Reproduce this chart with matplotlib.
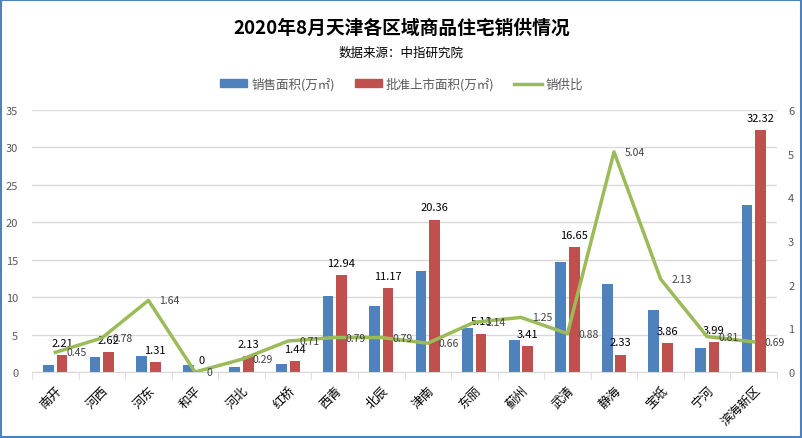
import matplotlib.pyplot as plt
import numpy as np
from matplotlib.patches import Rectangle
from matplotlib.lines import Line2D
from matplotlib.patches import Patch

plt.rcParams['font.family'] = ['Noto Sans CJK SC', 'DejaVu Sans']

# données
districts = ['南开', '河西', '河东', '和平', '河北', '红桥', '西青', '北辰',
             '津南', '东丽', '蓟州', '武清', '静海', '宝坻', '宁河', '滨海新区']
sales = [0.99, 2.04, 2.15, 0.95, 0.62, 1.02, 10.22, 8.82,
         13.44, 5.85, 4.26, 14.65, 11.74, 8.22, 3.23, 22.30]
approved = [2.21, 2.62, 1.31, 0, 2.13, 1.44, 12.94, 11.17,
            20.36, 5.13, 3.41, 16.65, 2.33, 3.86, 3.99, 32.32]
ratio = [0.45, 0.78, 1.64, 0, 0.29, 0.71, 0.79, 0.79,
         0.66, 1.14, 1.25, 0.88, 5.04, 2.13, 0.81, 0.69]

blue = '#4F81BD'
red = '#C0504D'
green = '#9BBB59'
grey = '#595959'

fig = plt.figure(figsize=(8.03, 4.39), dpi=100)
ax = fig.add_axes([0.0399, 0.1503, 0.9277, 0.5969])
ax2 = ax.twinx()

x = np.arange(len(districts))
w = 0.23
ax.bar(x - 0.145, sales, w, color=blue, zorder=2)
ax.bar(x + 0.145, approved, w, color=red, zorder=2)

for xi, v in zip(x, approved):
    ax.annotate(f'{v:g}', (xi + 0.145, v), xytext=(0, 9), textcoords='offset points',
                ha='center', va='center', fontsize=8, color='black', zorder=5)

ax2.plot(x, ratio, color=green, lw=2.5, zorder=3)
for xi, v in zip(x, ratio):
    ax2.annotate(f'{v:g}', (xi, v), xytext=(8, 0), textcoords='offset points',
                 ha='left', va='center', fontsize=7.5, color='#404040', zorder=5)

ax.set_xlim(-0.5, len(districts) - 0.5)
ax.set_ylim(0, 35)
ax.set_yticks(range(0, 36, 5))
ax2.set_ylim(0, 6)
ax2.set_yticks(range(0, 7))

ax.grid(axis='y', color='#D9D9D9', lw=1, zorder=0)
ax.set_axisbelow(True)

for a in (ax, ax2):
    for s in a.spines.values():
        s.set_visible(False)
ax.spines['bottom'].set_visible(True)
ax.spines['bottom'].set_color('#D9D9D9')

ax.set_xticks(x)
ax.set_xticklabels(districts, rotation=45, ha='right', rotation_mode='anchor',
                   fontsize=9, color='black')
ax.tick_params(axis='x', which='major', length=0, pad=8)
ax.set_xticks(np.arange(-0.5, len(districts)), minor=True)
ax.tick_params(axis='x', which='minor', length=5, color='#D9D9D9')
ax.tick_params(axis='y', length=0, labelsize=8, labelcolor=grey, pad=10)
ax2.tick_params(axis='y', length=0, labelsize=8, labelcolor=grey, pad=8)

fig.text(0.5, 1 - 28 / 439, '2020年8月天津各区域商品住宅销供情况',
         ha='center', va='center', fontsize=13.5, fontweight='bold')
fig.text(0.5, 1 - 53 / 439, '数据来源：中指研究院', ha='center', va='center', fontsize=9)

handles = [Patch(color=blue), Patch(color=red), Line2D([], [], color=green, lw=2.5)]
labels = ['销售面积(万㎡)', '批准上市面积(万㎡)', '销供比']
fig.legend(handles, labels, loc='center', bbox_to_anchor=(0.5, 1 - 85 / 439), ncol=3,
           frameon=False, fontsize=9, handlelength=2.2, handleheight=0.6,
           columnspacing=1.6, handletextpad=0.3, labelcolor=grey)

fig.add_artist(Rectangle((0.001, 0.002), 0.997, 0.996, transform=fig.transFigure,
                         fill=False, edgecolor='#4F81BD', lw=1.5))

fig.savefig('out.png', dpi=100)
